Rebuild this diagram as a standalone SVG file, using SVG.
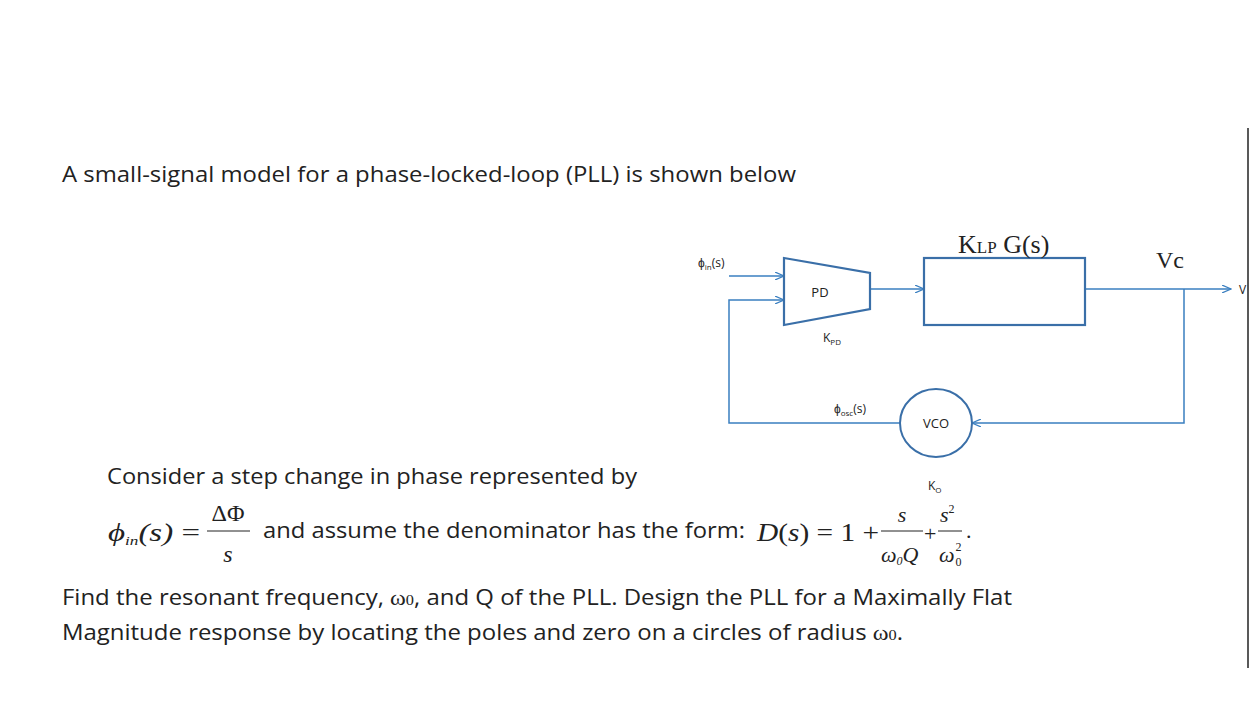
<svg xmlns="http://www.w3.org/2000/svg" width="1250" height="723" viewBox="0 0 1250 723">
<defs>
<marker id="ar" markerWidth="10" markerHeight="8" refX="9" refY="4" orient="auto" markerUnits="userSpaceOnUse"><path d="M0,0 L9,4 L0,8" fill="none" stroke="#3a7fc0" stroke-width="1.2"/></marker>
</defs>
<style>
.t{font-family:"Open Sans","Liberation Sans",sans-serif;fill:#222}
.m{font-family:"Liberation Serif",serif;fill:#222;font-style:italic}
.s{font-family:"Liberation Serif",serif;fill:#222}
.w{fill:none;stroke:#3a7fc0;stroke-width:1.5}
.b{fill:none;stroke:#3a6fa8;stroke-width:2.2}
</style>
<rect width="1250" height="723" fill="#fff"/>
<line x1="1248" y1="128" x2="1248" y2="668" stroke="#222" stroke-width="1.5"/>
<text class="t" x="62" y="182" font-size="22" textLength="734" lengthAdjust="spacingAndGlyphs">A small-signal model for a phase-locked-loop (PLL) is shown below</text>
<g id="connectors">
<line class="w" x1="729" y1="276" x2="784" y2="276" marker-end="url(#ar)"/>
<polyline class="w" points="900,423 729,423 729,300 784,300" marker-end="url(#ar)"/>
<line class="w" x1="870" y1="289" x2="924" y2="289" marker-end="url(#ar)"/>
<line class="w" x1="1085" y1="289" x2="1231" y2="289" marker-end="url(#ar)"/>
<polyline class="w" points="1184,289 1184,423 972,423" marker-end="url(#ar)"/>
</g>
<g id="pd">
<polygon class="b" points="784,258 870,273 870,309 784,325" fill="#fff"/>
<text class="t" x="820" y="297" font-size="13" text-anchor="middle">PD</text>
<text class="t" x="823" y="342" font-size="12">K<tspan font-size="8" dy="3">PD</tspan></text>
</g>
<g id="lp">
<rect class="b" x="924" y="258" width="161" height="67"/>
<text class="s" x="958" y="253" font-size="26">K<tspan font-size="17">LP</tspan> G(s)</text>
</g>
<g id="vco">
<ellipse cx="936" cy="423" rx="36" ry="34" fill="#fff" stroke="#3a6fa8" stroke-width="2"/>
<text class="t" x="936" y="428" font-size="13" text-anchor="middle">VCO</text>
<text class="t" x="928" y="490" font-size="12">K<tspan font-size="8" dy="3">O</tspan></text>
</g>
<text class="t" x="698" y="267" font-size="12">ϕ<tspan font-size="8" dy="3">in</tspan><tspan dy="-3">(s)</tspan></text>
<text class="t" x="834" y="413" font-size="12">ϕ<tspan font-size="8" dy="3">osc</tspan><tspan dy="-3">(s)</tspan></text>
<text class="s" x="1156" y="268" font-size="24">Vc</text>
<text class="t" x="1239" y="294" font-size="12">V</text>
<text class="t" x="107" y="484" font-size="22" textLength="530" lengthAdjust="spacingAndGlyphs">Consider a step change in phase represented by</text>
<text class="m" x="108" y="541" font-size="25" textLength="92" lengthAdjust="spacingAndGlyphs">ϕ<tspan font-size="13" dy="4">in</tspan><tspan dy="-4">(s)</tspan><tspan font-style="normal"> =</tspan></text>
<text class="s" x="228" y="521" font-size="24" text-anchor="middle">ΔΦ</text>
<line x1="207" y1="531" x2="250" y2="531" stroke="#222" stroke-width="1"/>
<text class="m" x="228" y="562" font-size="24" text-anchor="middle">s</text>
<text class="t" x="263" y="538" font-size="22" textLength="482" lengthAdjust="spacingAndGlyphs">and assume the denominator has the form:</text>
<text class="m" x="757" y="541" font-size="25" textLength="122" lengthAdjust="spacingAndGlyphs">D<tspan font-style="normal">(</tspan>s<tspan font-style="normal">) = 1 +</tspan></text>
<text class="m" x="902" y="522" font-size="22" text-anchor="middle">s</text>
<line x1="881" y1="531" x2="923" y2="531" stroke="#222" stroke-width="1"/>
<text class="m" x="881" y="562" font-size="22">ω<tspan font-size="12" dy="3">0</tspan><tspan dy="-3">Q</tspan></text>
<text class="s" x="924" y="541" font-size="22">+</text>
<text class="m" x="940" y="522" font-size="22">s<tspan font-size="12" font-style="normal" dy="-9">2</tspan></text>
<line x1="938" y1="531" x2="962" y2="531" stroke="#222" stroke-width="1"/>
<text class="m" x="939" y="562" font-size="22">ω<tspan font-size="12" font-style="normal" dx="1" dy="4">0</tspan><tspan font-size="12" font-style="normal" dx="-6" dy="-15">2</tspan></text>
<text class="s" x="966" y="538" font-size="22">.</text>
<text class="t" x="62" y="605" font-size="22" textLength="950" lengthAdjust="spacingAndGlyphs">Find the resonant frequency, <tspan class="s">ω</tspan><tspan class="s" font-size="15">0</tspan>, and Q of the PLL. Design the PLL for a Maximally Flat</text>
<text class="t" x="62" y="640" font-size="22" textLength="841" lengthAdjust="spacingAndGlyphs">Magnitude response by locating the poles and zero on a circles of radius <tspan class="s">ω</tspan><tspan class="s" font-size="15">0</tspan>.</text>
</svg>
